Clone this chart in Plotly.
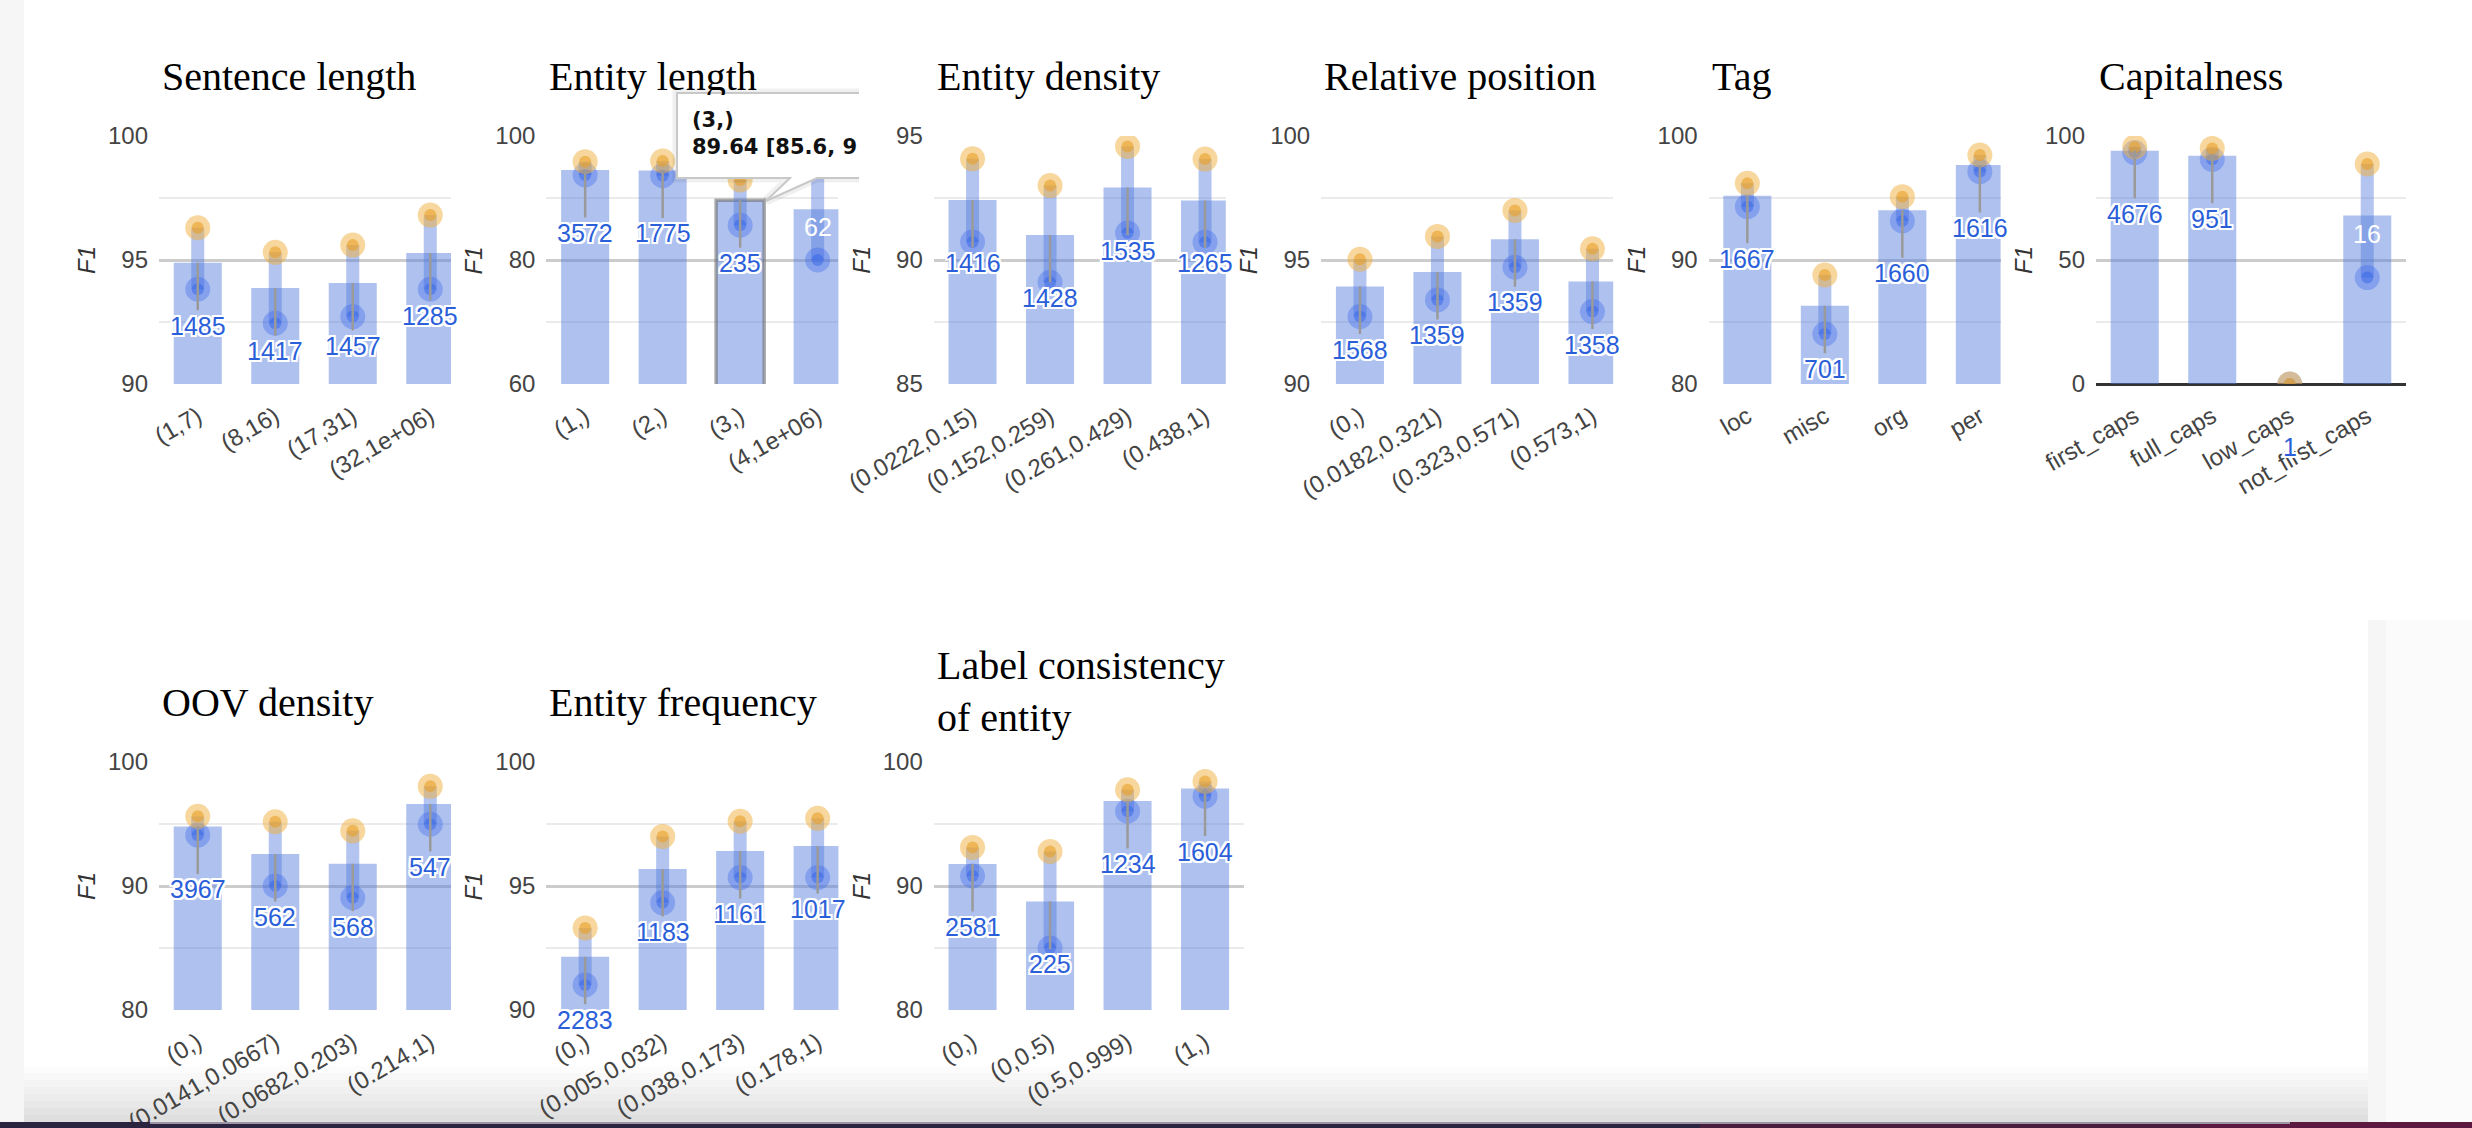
import plotly.graph_objects as go

W, H = 2472, 1128

# ---------------- data ----------------
sent_cats = ["(1,7)", "(8,16)", "(17,31)", "(32,1e+06)"]
sent_f1 = [94.89, 93.87, 94.07, 95.28]
sent_lo = [93.82, 92.45, 92.72, 93.82]
sent_hi = [96.30, 95.31, 95.60, 96.81]
sent_n = [1485, 1417, 1457, 1285]

elen_cats = ["(1,)", "(2,)", "(3,)", "(4,1e+06)"]
elen_f1 = [94.52, 94.45, 89.64, 88.2]
elen_lo = [93.71, 93.6, 85.6, 80.0]
elen_hi = [95.86, 95.97, 92.9, 95.5]
elen_n = [3572, 1775, 235, 62]

eden_cats = ["(0.0222,0.15)", "(0.152,0.259)", "(0.261,0.429)", "(0.438,1)"]
eden_f1 = [92.42, 91.01, 92.92, 92.40]
eden_lo = [90.73, 89.10, 91.09, 90.72]
eden_hi = [94.08, 93.00, 94.58, 94.07]
eden_n = [1416, 1428, 1535, 1265]

rpos_cats = ["(0,)", "(0.0182,0.321)", "(0.323,0.571)", "(0.573,1)"]
rpos_f1 = [93.93, 94.52, 95.84, 94.13]
rpos_lo = [92.72, 93.39, 94.71, 92.92]
rpos_hi = [95.03, 95.95, 97.00, 95.45]
rpos_n = [1568, 1359, 1359, 1358]

tag_cats = ["loc", "misc", "org", "per"]
tag_f1 = [95.19, 86.32, 94.01, 97.66]
tag_lo = [94.30, 84.03, 93.15, 97.12]
tag_hi = [96.18, 88.79, 95.11, 98.47]
tag_n = [1667, 701, 1660, 1616]

cap_cats = ["first_caps", "full_caps", "low_caps", "not_first_caps"]
cap_f1 = [94.1, 92.07, 0.0, 67.9]
cap_lo = [93.3, 90.6, 0.0, 42.9]
cap_hi = [95.6, 95.0, 0.0, 88.7]
cap_n = [4676, 951, 1, 16]

oov_cats = ["(0,)", "(0.0141,0.0667)", "(0.0682,0.203)", "(0.214,1)"]
oov_f1 = [94.80, 92.58, 91.80, 96.61]
oov_lo = [94.10, 90.01, 89.05, 94.98]
oov_hi = [95.62, 95.18, 94.45, 98.04]
oov_n = [3967, 562, 568, 547]

efreq_cats = ["(0,)", "(0.005,0.032)", "(0.038,0.173)", "(0.178,1)"]
efreq_f1 = [92.15, 95.69, 96.41, 96.61]
efreq_lo = [91.01, 94.32, 95.34, 95.34]
efreq_hi = [93.31, 97.00, 97.61, 97.73]
efreq_n = [2283, 1183, 1161, 1017]

lcon_cats = ["(0,)", "(0,0.5)", "(0.5,0.999)", "(1,)"]
lcon_f1 = [91.78, 88.76, 96.86, 97.86]
lcon_lo = [90.81, 85.00, 96.03, 97.24]
lcon_hi = [93.11, 92.78, 97.76, 98.43]
lcon_n = [2581, 225, 1234, 1604]

charts = [
    ("Sentence length", sent_cats, sent_f1, sent_lo, sent_hi, sent_n, (90, 100), 5),
    ("Entity length", elen_cats, elen_f1, elen_lo, elen_hi, elen_n, (60, 100), 20),
    ("Entity density", eden_cats, eden_f1, eden_lo, eden_hi, eden_n, (85, 95), 5),
    ("Relative position", rpos_cats, rpos_f1, rpos_lo, rpos_hi, rpos_n, (90, 100), 5),
    ("Tag", tag_cats, tag_f1, tag_lo, tag_hi, tag_n, (80, 100), 10),
    ("Capitalness", cap_cats, cap_f1, cap_lo, cap_hi, cap_n, (0, 100), 50),
    ("OOV density", oov_cats, oov_f1, oov_lo, oov_hi, oov_n, (80, 100), 10),
    ("Entity frequency", efreq_cats, efreq_f1, efreq_lo, efreq_hi, efreq_n, (90, 100), 5),
    ("Label consistency<br>of entity", lcon_cats, lcon_f1, lcon_lo, lcon_hi, lcon_n, (80, 100), 10),
]
ROWS = [[0, 1, 2, 3, 4, 5], [6, 7, 8]]
HOVERED = (1, 2)  # chart index, category index shown with tooltip

# ---------------- style ----------------
COL_X0 = 159.0
COL_STEP = 387.4
PITCH = 77.5
CLIP_W = 292.0
ROW_TOP = [136.0, 762.0]
PLOT_H = 248.0

BAR = "rgba(84,125,220,0.47)"
SEG = "rgba(84,125,220,0.45)"
BLUE_OUT = "rgba(55,100,235,0.35)"
BLUE_IN = "rgba(45,95,230,0.45)"
ORG_OUT = "rgba(240,175,60,0.5)"
ORG_IN = "rgba(232,160,40,0.6)"
LABEL_BLUE = "#2b5fd9"
SANS = "Liberation Sans, Arial, Helvetica, sans-serif"
SERIF = "Liberation Serif, Times New Roman, serif"
OUTLINE = ("2px 0 0 #fff, -2px 0 0 #fff, 0 2px 0 #fff, 0 -2px 0 #fff, "
           "2px 2px 0 #fff, -2px -2px 0 #fff, 2px -2px 0 #fff, -2px 2px 0 #fff")


def fx(p):
    return p / W


def fy(p):
    return 1 - p / H


fig = go.Figure()
layout = dict(
    template="none",
    width=W, height=H, margin=dict(l=0, r=0, t=0, b=0, pad=0, autoexpand=False),
    paper_bgcolor="white", plot_bgcolor="rgba(0,0,0,0)",
    showlegend=False, bargap=0.38, font=dict(family=SANS),
)
annotations = []
shapes = []

for r, row in enumerate(ROWS):
    for c, k in enumerate(row):
        title, cats, f1, lo, hi, n, yr, dt = charts[k]
        last = c == len(row) - 1
        left = COL_X0 + COL_STEP * c
        width = PITCH * 4 if last else CLIP_W
        top = ROW_TOP[r]
        bottom = top + PLOT_H
        xa = "x" if k == 0 else f"x{k + 1}"
        ya = "y" if k == 0 else f"y{k + 1}"
        xkey = "xaxis" if k == 0 else f"xaxis{k + 1}"
        ykey = "yaxis" if k == 0 else f"yaxis{k + 1}"

        layout[xkey] = dict(
            domain=[fx(left), fx(left + width)], anchor=ya, type="category",
            range=[-0.5, -0.5 + width / PITCH], showgrid=False, zeroline=False,
            showline=False, ticks="", tickangle=-30, automargin=False, ticklabelstandoff=13,
            tickfont=dict(family=SANS, size=24, color="#444"), fixedrange=True,
        )
        layout[ykey] = dict(
            domain=[fy(bottom), fy(top)], anchor=xa, range=list(yr),
            tick0=yr[0], dtick=dt, showgrid=True, gridcolor="#cccccc", gridwidth=2.5,
            minor=dict(dtick=dt / 2, tick0=yr[0], showgrid=True, gridcolor="#ebebeb", gridwidth=2),
            zeroline=(yr[0] == 0), zerolinecolor="#333333", zerolinewidth=3,
            showline=False, ticks="", ticklabelstandoff=10, automargin=False,
            tickfont=dict(family=SANS, size=24, color="#444"), fixedrange=True,
        )

        lw = [0] * len(cats)
        lc = ["rgba(0,0,0,0)"] * len(cats)
        if HOVERED[0] == k:
            lw[HOVERED[1]] = 3.5
            lc[HOVERED[1]] = "rgba(110,110,110,0.6)"

        fig.add_trace(go.Bar(
            x=cats, y=f1, xaxis=xa, yaxis=ya, width=0.62,
            marker=dict(color=BAR, line=dict(width=lw, color=lc)),
            error_y=dict(type="data", symmetric=False,
                         array=[h - v for h, v in zip(hi, f1)],
                         arrayminus=[v - l for v, l in zip(f1, lo)],
                         color=SEG, thickness=13, width=0),
            hoverinfo="skip",
        ))
        for yy, col_out, col_in in ((lo, BLUE_OUT, BLUE_IN), (hi, ORG_OUT, ORG_IN)):
            fig.add_trace(go.Scatter(x=cats, y=yy, xaxis=xa, yaxis=ya, mode="markers",
                                     marker=dict(size=25, color=col_out, line=dict(width=0)),
                                     hoverinfo="skip"))
            fig.add_trace(go.Scatter(x=cats, y=yy, xaxis=xa, yaxis=ya, mode="markers",
                                     marker=dict(size=12, color=col_in, line=dict(width=0)),
                                     hoverinfo="skip"))

        # title
        tcenter = top - (70.5 if "<br>" in title else 60)
        annotations.append(dict(
            text=title, xref="paper", yref="paper", x=fx(left + 1), y=fy(tcenter),
            xanchor="left", yanchor="middle", align="left", showarrow=False,
            font=dict(family=SERIF, size=40, color="#000"),
        ))
        # axis name
        annotations.append(dict(
            text="F1", xref="paper", yref="paper", x=fx(left - 73), y=fy(top + PLOT_H / 2),
            xanchor="center", yanchor="middle", textangle=-90, showarrow=False,
            font=dict(family=SANS, size=24, color="#333", style="italic"),
        ))
        # count labels
        for cat, v, cnt in zip(cats, f1, n):
            if cnt < 100 and v > yr[0]:
                annotations.append(dict(
                    text=str(cnt), x=cat, y=v, xref=xa, yref=ya, showarrow=False,
                    yshift=-18, font=dict(family=SANS, size=25, color="white"),
                ))
            else:
                annotations.append(dict(
                    text=str(cnt), x=cat, y=v, xref=xa, yref=ya,
                    showarrow=v > yr[0], arrowhead=0, arrowwidth=2.5, arrowcolor="#9a9a9a",
                    ax=0, ay=63, standoff=0,
                    yshift=0 if v > yr[0] else -63,
                    font=dict(family=SANS, size=25, color=LABEL_BLUE, shadow=OUTLINE),
                ))

# ---------------- tooltip ----------------
hk, hc = HOVERED
tip_title = charts[hk][1][hc]
tip_val = f"{charts[hk][2][hc]:.2f} [{charts[hk][3][hc]}, 9"
clip_r = 859


def path(pts, close=False):
    s = "M " + " L ".join(f"{fx(a):.6f},{fy(b):.6f}" for a, b in pts)
    return s + (" Z" if close else "")


tip_pts = [(clip_r, 93), (677, 93), (677, 178), (790, 178), (766, 201), (817, 178), (clip_r, 178)]
shapes.append(dict(type="path", xref="paper", yref="paper", layer="above",
                   path=path(tip_pts), fillcolor="rgba(0,0,0,0)",
                   line=dict(color="rgba(0,0,0,0.06)", width=9)))
shapes.append(dict(type="path", xref="paper", yref="paper", layer="above",
                   path=path(tip_pts), fillcolor="white",
                   line=dict(color="#c8c8c8", width=2)))
# white cover so the tooltip hides the title's descender (as in the screenshot)
annotations.append(dict(
    text=" ", xref="paper", yref="paper", x=fx(768), y=fy(99.5), xanchor="center", yanchor="middle",
    width=176, height=9, bgcolor="white", borderwidth=0, borderpad=0, showarrow=False,
    font=dict(size=1),
))
annotations.append(dict(
    text=f"<b>{tip_title}</b><br><b>{tip_val}</b>", xref="paper", yref="paper",
    x=fx(690), y=fy(134), xanchor="left", yanchor="middle", align="left",
    showarrow=False, font=dict(family="DejaVu Sans, sans-serif", size=21, color="#111"),
))

# ---------------- page background (screenshot frame) ----------------
shapes.append(dict(type="rect", xref="paper", yref="paper", layer="below",
                   x0=0, x1=fx(24), y0=fy(1122), y1=1, fillcolor="#f6f6f6", line=dict(width=0)))
shapes.append(dict(type="rect", xref="paper", yref="paper", layer="below",
                   x0=fx(2368), x1=fx(2386), y0=fy(1122), y1=fy(620), fillcolor="#f6f6f6", line=dict(width=0)))
shapes.append(dict(type="rect", xref="paper", yref="paper", layer="below",
                   x0=fx(2386), x1=1, y0=fy(1122), y1=fy(620), fillcolor="#fbfbfb", line=dict(width=0)))
for i in range(8):
    y0p = 1066 + 7 * i
    shapes.append(dict(type="rect", xref="paper", yref="paper", layer="below",
                       x0=fx(24), x1=fx(2368), y0=fy(y0p + 7), y1=fy(y0p),
                       fillcolor=f"rgba(0,0,0,{0.012 + 0.016 * i:.3f})", line=dict(width=0)))
for x0p, x1p, colr in ((0, W, "#2a2440"), (1700, W, "#4a1d3f"), (2200, W, "#5d1a40")):
    shapes.append(dict(type="rect", xref="paper", yref="paper", layer="above",
                       x0=fx(x0p), x1=fx(x1p), y0=0, y1=fy(1122), fillcolor=colr, line=dict(width=0)))
shapes.append(dict(type="rect", xref="paper", yref="paper", layer="above",
                   x0=fx(150), x1=fx(2290), y0=fy(1124), y1=fy(1122), fillcolor="#9d95a5", line=dict(width=0)))

layout["annotations"] = annotations
layout["shapes"] = shapes
fig.update_layout(**layout)

fig.write_html("out.html", config={"displayModeBar": False},
               post_script="document.body.style.margin='0px';document.body.style.overflow='hidden';")
